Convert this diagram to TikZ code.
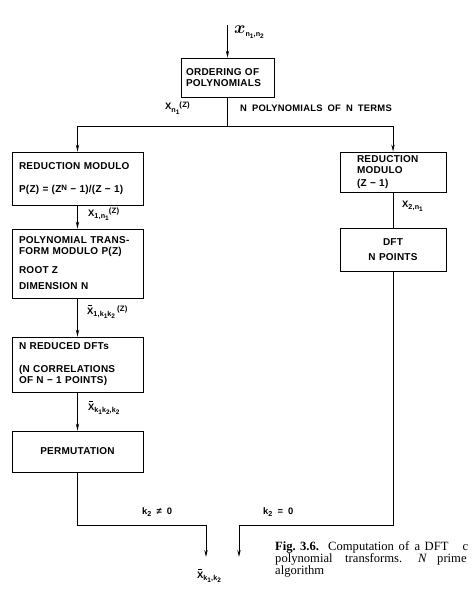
\documentclass[tikz,border=0pt]{standalone}
\usepackage{fontspec}
\setmainfont{Liberation Serif}
\newfontfamily\bx{Liberation Sans}[LetterSpace=2.5,WordSpace=1.8]
\usetikzlibrary{arrows.meta}
\newcommand{\lo}[1]{\raisebox{-0.55ex}{\fontsize{7.2}{7.2}\selectfont #1}}
\newcommand{\llo}[1]{\raisebox{-0.4ex}{\fontsize{6.5}{6.5}\selectfont #1}}
\newcommand{\hi}[1]{\raisebox{0.45ex}{\fontsize{7.8}{7.8}\selectfont #1}}
\newcommand{\bX}{\rlap{\hspace{0.8pt}\rule[8.2pt]{4pt}{0.5pt}}X}
\begin{document}
\begin{tikzpicture}[x=1pt,y=-1pt,
  box/.style={draw, line width=0.9pt, inner ysep=3pt,
    font=\bx\bfseries\fontsize{10}{11}\selectfont, align=left},
  lab/.style={font=\bx\bfseries\fontsize{9.4}{10}\selectfont, inner sep=0pt, anchor=base west},
  captext/.style={font=\fontsize{12.6}{12}\selectfont, inner sep=0pt, anchor=base west},
  arr/.style={-{Stealth[length=7pt,width=3.4pt]}, line width=0.9pt},
  ln/.style={line width=0.9pt}]
\useasboundingbox (0,0) rectangle (474,607);

% boxes
\node[box, text width=83pt, inner xsep=5pt, minimum height=39pt] (ord) at (227.5,77.5)
  {ORDERING OF\\POLYNOMIALS};
\node[box, text width=117pt, inner xsep=7pt, minimum height=53pt] (b1) at (77.5,178.5)
  {REDUCTION MODULO\\[12pt]P(Z) = (Z\hi{N} − 1)/(Z − 1)};
\node[box, text width=117pt, inner xsep=7pt, minimum height=69pt] (b2) at (77.5,263.5)
  {POLYNOMIAL TRANS-\\FORM MODULO P(Z)\\[8pt]ROOT Z\\[5pt]DIMENSION N};
\node[box, text width=117pt, inner xsep=7pt, minimum height=55pt] (b3) at (77.5,364.5)
  {N REDUCED DFTs\\[12pt](N CORRELATIONS\\OF N − 1 POINTS)};
\node[box, text width=117pt, inner xsep=7pt, minimum height=41pt, align=center] (b4) at (77.5,451.5)
  {PERMUTATION};
\node[box, text width=72pt, inner xsep=17pt, minimum height=40pt] (r1) at (393,172)
  {REDUCTION\\MODULO\\[2pt](Z − 1)};
\node[box, text width=90pt, inner xsep=8pt, minimum height=43pt, align=center] (r2) at (393,249.5)
  {DFT\\[4pt]N POINTS};

% coordinates
\coordinate (top) at (227.5,25);
\coordinate (j) at (227.5,126);
\coordinate (kL) at (206,525);
\coordinate (eL) at (206,557);
\coordinate (kR) at (239,525);
\coordinate (eR) at (239,557);

% connectors
\draw[arr] (top) -- (ord.north);
\draw[ln] (ord.south) -- (j);
\draw[arr] (j) -| (b1.north);
\draw[arr] (j) -| (r1.north);
\draw[arr] (b1.south) -- (b2.north);
\draw[arr] (b2.south) -- (b3.north);
\draw[arr] (b3.south) -- (b4.north);
\draw[ln] (r1.south) -- (r2.north);
\draw[arr] (b4.south) |- (kL) -- (eL);
\draw[arr] (r2.south) |- (kR) -- (eR);

% labels
\node[lab] (lx) at (234,34) {{\fontsize{19}{19}\selectfont\boldmath$x$}\lo{n\llo{1},n\llo{2}}};
\node[lab] (lxn) at (165,110) {X\lo{n\llo{1}}\hi{(Z)}};
\node[lab] (lnp) at (240,111.5) {N POLYNOMIALS OF N TERMS};
\node[lab] (lx1) at (88,216) {X\lo{1,n\llo{1}}\hi{(Z)}};
\node[lab] (lx1k) at (87,314) {\bX\lo{1,k\llo{1}k\llo{2}}\hspace{2pt}\hi{(Z)}};
\node[lab] (lxk) at (88,410) {\bX\lo{k\llo{1}k\llo{2},k\llo{2}}};
\node[lab] (lx2) at (402,207) {X\lo{2,n\llo{1}}};
\node[lab] (lkne) at (142,514) {k\lo{2} ≠ 0};
\node[lab] (lkeq) at (263,514) {k\lo{2} = 0};
\node[lab] (lout) at (197,578) {\bX\lo{k\llo{1},k\llo{2}}};

% caption
\node[captext] (c1) at (275,550) {\makebox[53pt][l]{\textbf{Fig. 3.6.}}\makebox[70.5pt][l]{Computation}\makebox[16pt][l]{of}\makebox[10pt][l]{a}\makebox[38pt][l]{DFT}c};
\node[captext] (c2) at (275,562) {\makebox[70pt][l]{polynomial}\makebox[73pt][l]{transforms.}\makebox[19pt][l]{\textit{N}}prime};
\node[captext] (c3) at (275,574) {algorithm};
\end{tikzpicture}
\end{document}
